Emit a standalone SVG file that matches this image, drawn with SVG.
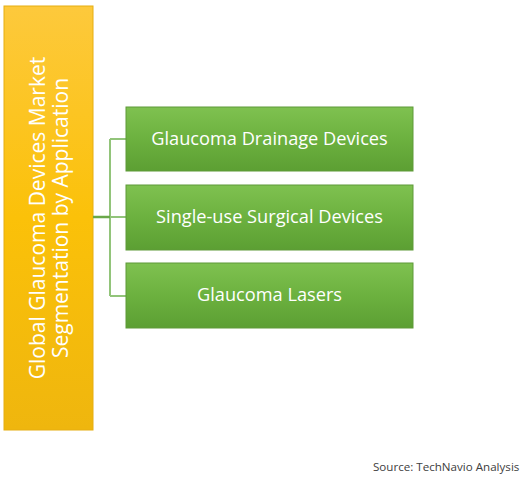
<svg xmlns="http://www.w3.org/2000/svg" width="524" height="478" viewBox="0 0 524 478">
<defs>
<linearGradient id="gy" x1="0" y1="0" x2="0" y2="1">
<stop offset="0" stop-color="#fdc93c"/>
<stop offset="0.5" stop-color="#fbc109"/>
<stop offset="1" stop-color="#efb60e"/>
</linearGradient>
<linearGradient id="gg" x1="0" y1="0" x2="0" y2="1">
<stop offset="0" stop-color="#7fc150"/>
<stop offset="0.5" stop-color="#6cb13f"/>
<stop offset="1" stop-color="#5c9f33"/>
</linearGradient>
</defs>
<style>
.box{fill:url(#gg);stroke:#5e9a38;stroke-width:1}
.lbl{font-family:"Open Sans","Liberation Sans",sans-serif;font-size:18.2px;fill:#ffffff;text-anchor:middle}
.vt{font-family:"Open Sans","Liberation Sans",sans-serif;font-size:21px;fill:#ffffff;text-anchor:middle}
.con{stroke:#92c47a;stroke-width:2;fill:none}
</style>
<rect width="524" height="478" fill="#ffffff"/>
<g id="root">
<rect x="4" y="6" width="89" height="424" fill="url(#gy)" stroke="#e6ae10" stroke-width="1"/>
<text class="vt" transform="translate(48 218) rotate(-90)"><tspan x="0" y="-3">Global Glaucoma Devices Market</tspan><tspan x="0" y="20">Segmentation by Application</tspan></text>
</g>
<g id="connectors">
<path class="con" d="M110 139V296M110 139H126M110 296H126M110 217H126"/>
<path d="M93 217H110" stroke="#6aa84a" stroke-width="2.5" fill="none"/>
</g>
<g id="n1">
<rect class="box" x="126" y="107" width="287" height="64"/>
<text class="lbl" x="269.5" y="145">Glaucoma Drainage Devices</text>
</g>
<g id="n2">
<rect class="box" x="126" y="185" width="287" height="65"/>
<text class="lbl" x="269.5" y="223">Single-use Surgical Devices</text>
</g>
<g id="n3">
<rect class="box" x="126" y="263" width="287" height="65"/>
<text class="lbl" x="269.5" y="301">Glaucoma Lasers</text>
</g>
<text x="373" y="471" font-family="'Open Sans','Liberation Sans',sans-serif" font-size="11.6" fill="#404040">Source: TechNavio Analysis</text>
</svg>
